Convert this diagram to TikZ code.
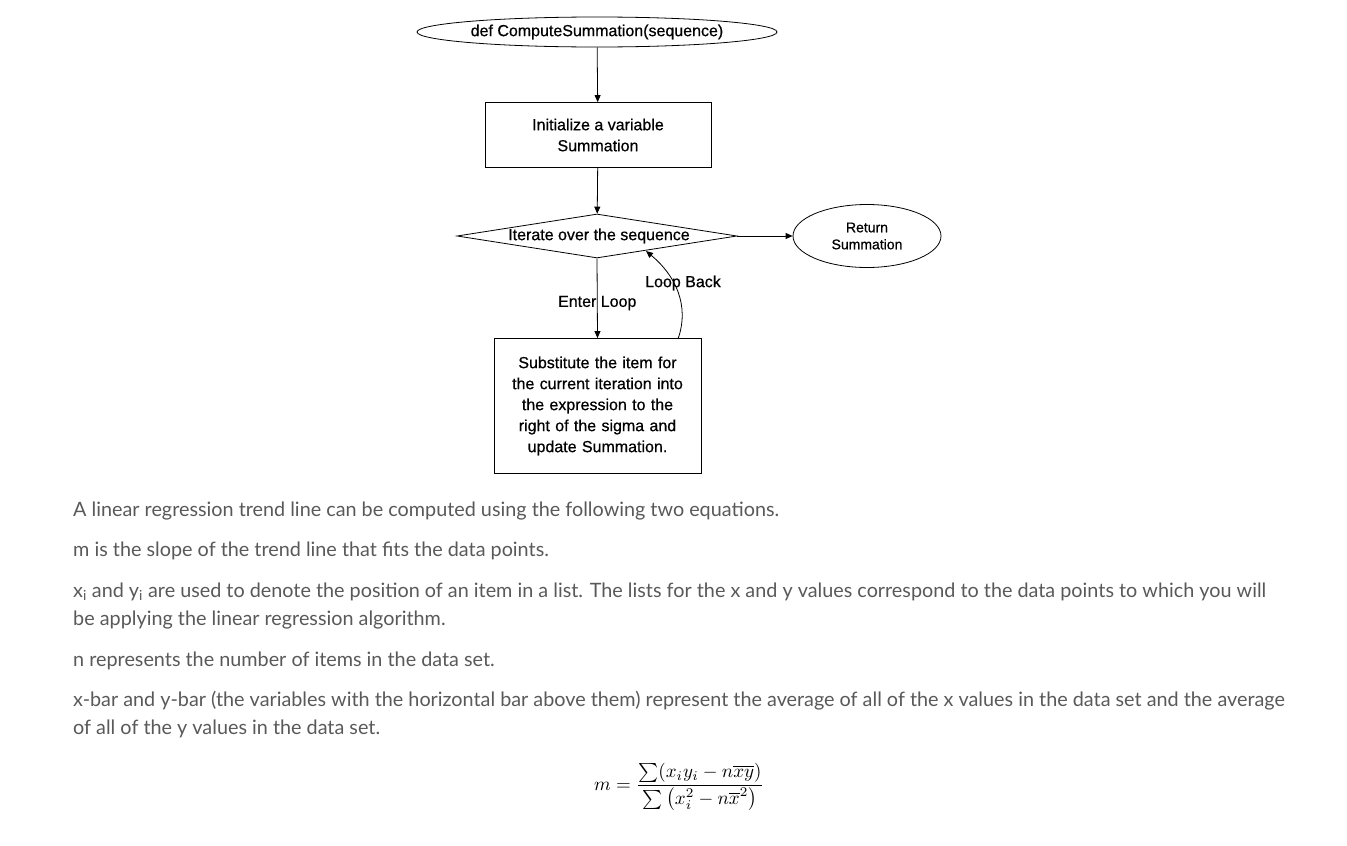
\documentclass[tikz,border=0pt]{standalone}
\usepackage{fontspec}
\setmainfont{Liberation Sans}
\newfontfamily\bodyfont{Lato}
\newfontfamily\fcfont[FakeBold=0.6]{Liberation Sans}
\usetikzlibrary{shapes.geometric,arrows.meta}
\begin{document}
\begin{tikzpicture}[x=1pt,y=-1pt,
  fc/.style={draw,line width=0.8pt,font=\fcfont\fontsize{16}{21}\selectfont,align=center,inner sep=0pt},
  arr/.style={draw,line width=0.8pt,-{Triangle[length=7pt,width=6pt]}},
  para/.style={anchor=base west,inner sep=0pt,font=\bodyfont\fontsize{19.8}{22}\selectfont,text=black!65}]
\useasboundingbox (0,0) rectangle (1347,846);
\node[fc,ellipse,minimum width=360pt,minimum height=30pt] (start) at (597,32) {def ComputeSummation(sequence)};
\node[fc,rectangle,minimum width=226pt,minimum height=65pt] (init) at (598,135) {Initialize a variable\\Summation};
\node[fc,diamond,aspect=6.4,minimum width=280pt,minimum height=44pt,inner sep=0pt] (iter) at (597,236) {};
\node[font=\fcfont\fontsize{16}{19}\selectfont,inner sep=0pt] (itext) at (599,236) {Iterate over the sequence};
\node[fc,ellipse,minimum width=148pt,minimum height=63pt,font=\fcfont\fontsize{14}{17}\selectfont] (ret) at (867,236) {Return\\Summation};
\node[fc,rectangle,minimum width=207pt,minimum height=135pt,text width=195pt] (sub) at (597.5,406) {Substitute the item for\\the current iteration into\\the expression to the\\right of the sigma and\\update Summation.};
\draw[arr] (start) -- (init);
\draw[arr] (init) -- (iter);
\draw[arr] (iter.east) -- (ret);
\draw[arr] (iter.south) -- node[inner sep=0pt,font=\fcfont\fontsize{16}{19}\selectfont,pos=0.56]{Enter Loop} (sub.north);
\coordinate (lb) at (678,339);
\coordinate (le) at (646,251);
\draw[arr] (lb) .. controls (690,305) and (675,275) .. (le);
\node[font=\fcfont\fontsize{16}{19}\selectfont,inner sep=0pt] (lbl) at (683,283) {Loop Back};
\node[para] (p1) at (73,516) {A linear regression trend line can be computed using the following two equations.};
\node[para] (p2) at (73,556) {m is the slope of the trend line that fits the data points.};
\node[para] (p3) at (73,597) {x\textsubscript{i} and y\textsubscript{i} are used to denote the position of an item in a list. The lists for the x and y values correspond to the data points to which you will};
\node[para] (p4) at (73,625) {be applying the linear regression algorithm.};
\node[para] (p5) at (73,666) {n represents the number of items in the data set.};
\node[para] (p6) at (73,706) {x-bar and y-bar (the variables with the horizontal bar above them) represent the average of all of the x values in the data set and the average};
\node[para] (p7) at (73,734) {of all of the y values in the data set.};
\node[inner sep=0pt,scale=1.9,transform shape] (eq) at (679,787) {$\displaystyle m=\frac{\sum(x_iy_i-n\overline{xy})}{\sum\left(x_i^2-n\overline{x}^2\right)}$};
\end{tikzpicture}
\end{document}
